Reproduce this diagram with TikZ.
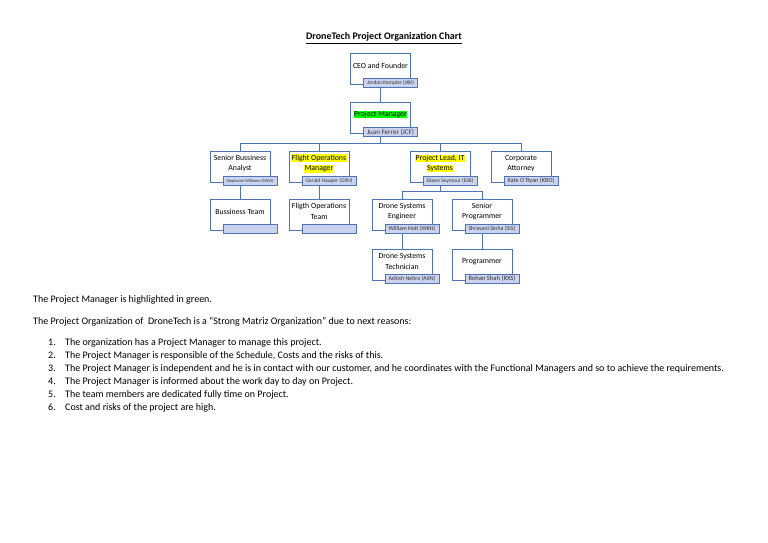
\documentclass[tikz,border=0pt]{standalone}
\usepackage{fontspec}
\setmainfont{Carlito}
\usepackage{tikz}
\usetikzlibrary{backgrounds}
\definecolor{boxblue}{RGB}{79,115,180}
\definecolor{tagblue}{RGB}{203,211,238}
\definecolor{hlgreen}{RGB}{0,255,0}
\definecolor{hlyellow}{RGB}{255,255,0}
\tikzset{
  role/.style={draw=boxblue,fill=white,line width=0.8pt,minimum width=60pt,minimum height=31pt,inner sep=0pt},
  roletext/.style={align=center,inner sep=0pt,font=\fontsize{7.8}{10.5}\selectfont},
  tag/.style={draw=boxblue,fill=tagblue,line width=0.8pt,minimum width=54pt,minimum height=9.5pt,inner sep=0pt,font=\fontsize{6}{6}\selectfont,text=black!80},
  link/.style={draw=boxblue,line width=0.8pt},
  bodytext/.style={inner sep=0pt,font=\fontsize{10}{12}\selectfont}
}
\newcommand{\hlg}[1]{{\setlength{\fboxsep}{0.4pt}\colorbox{hlgreen}{#1}}}
\newcommand{\hly}[1]{{\setlength{\fboxsep}{0.4pt}\colorbox{hlyellow}{#1}}}
% box with the name tag at its lower right
\newcommand{\orgbox}[5]{%
  \node [role] (#1) at (#2,#3+15.5) {};
  \node [roletext] (#1-t) at (#2,#3+12.5) {#4};
  \node [tag] (#1-n) at (#2+10,#3+30)
    {\if\relax\detokenize{#5}\relax\else\resizebox{47pt}{!}{#5}\fi};
}

\begin{document}
\begin{tikzpicture}[x=1pt,y=-1pt]
    \useasboundingbox (0,0) rectangle (768,543);
    \node [inner sep=0pt,font=\fontsize{10}{12}\selectfont\bfseries] (title) at (384,38)
        {\underline{DroneTech Project Organization Chart}};

    \orgbox{ceo}{380.5}{53}{CEO and Founder}{Jordan Kempler (JKK)}
    \orgbox{pm}{380.5}{102}{\hlg{Project Manager}}{Juan Ferrer (JCF)}
    \orgbox{sba}{240}{151}{Senior Bussiness\\Analyst}{Stephanie Williams (SWM)}
    \orgbox{fom}{319}{151}{\hly{Flight Operations}\\\hly{Manager}}{Gerald Hauper (GPH)}
    \orgbox{pl}{440}{151}{\hly{Project Lead, IT}\\\hly{Systems}}{Eileen Seymour (ESR)}
    \orgbox{ca}{521}{151}{Corporate\\Attorney}{Kate O'Ryan (KRO)}
    \orgbox{bt}{240}{199}{Bussiness Team}{}
    \orgbox{fot}{319}{199}{Fligth Operations\\Team}{}
    \orgbox{dse}{402}{199}{Drone Systems\\Engineer}{William Holt (WKH)}
    \orgbox{sp}{482}{199}{Senior\\Programmer}{Shravani Sinha (SIS)}
    \orgbox{dst}{402}{249}{Drone Systems\\Technician}{Ashish Nehra (AXN)}
    \orgbox{pr}{482}{249}{Programmer}{Rohan Shah (RXS)}

    \coordinate (bus) at (380.5,143);
    \coordinate (subbus) at (440,191);
    \begin{scope}[on background layer]
        \draw [link] (ceo) -- (pm);
        \draw [link] (pm) -- (bus);
        \foreach \c in {sba,fom,pl,ca}
            \draw [link] (\c) |- (bus);
        \draw [link] (sba) -- (bt);
        \draw [link] (fom) -- (fot);
        \draw [link] (pl) -- (subbus);
        \foreach \c in {dse,sp}
            \draw [link] (\c) |- (subbus);
        \draw [link] (dse) -- (dst);
        \draw [link] (sp) -- (pr);
    \end{scope}

    \node [bodytext,anchor=base west] (note) at (33,302)
        {The Project Manager is highlighted in green.};
    \node [bodytext,anchor=base west] (reason) at (33,324)
        {The Project Organization of \ DroneTech is a ``Strong Matriz Organization'' due to next reasons:};
    \foreach \n/\t in {
        1/{The organization has a Project Manager to manage this project.},
        2/{The Project Manager is responsible of the Schedule, Costs and the risks of this.},
        3/{The Project Manager is independent and he is in contact with our customer, and he coordinates with the Functional Managers and so to achieve the requirements.},
        4/{The Project Manager is informed about the work day to day on Project.},
        5/{The team members are dedicated fully time on Project.},
        6/{Cost and risks of the project are high.}}
    {
        \node [bodytext,anchor=base east] (num\n) at (56,{332+13*\n}) {\n.};
        \node [bodytext,anchor=base west] (item\n) at (65,{332+13*\n}) {\t};
    }
\end{tikzpicture}
\end{document}
